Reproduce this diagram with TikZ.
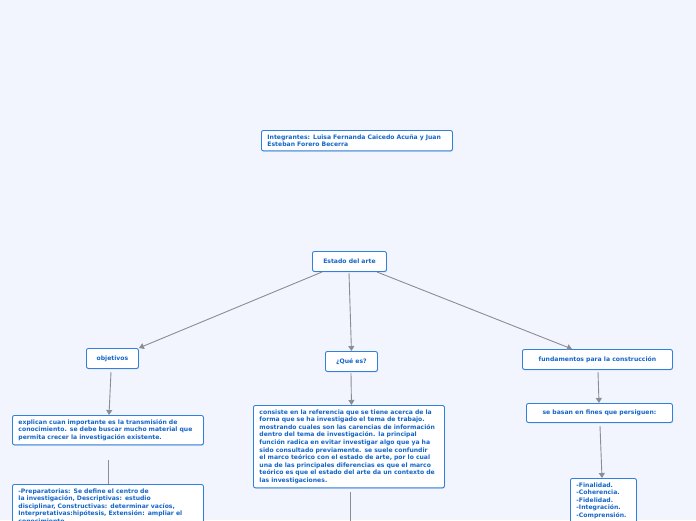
\documentclass[tikz,border=0pt]{standalone}
\usepackage{fontspec}
\setmainfont{DejaVu Sans}
\usetikzlibrary{arrows.meta,shadows}
\definecolor{bg}{HTML}{F2F5FD}
\definecolor{bd}{HTML}{2F80E0}
\definecolor{tx}{HTML}{1566C8}
\definecolor{ln}{HTML}{8A8D94}
\hyphenpenalty=10000
\exhyphenpenalty=10000
\newcommand{\boxfnt}{\fontsize{6.1}{7.6}\selectfont\bfseries}
\begin{document}
\begin{tikzpicture}[x=1pt,y=-1pt,
 box/.style={draw=bd,line width=0.9pt,fill=white,rounded corners=2pt,anchor=north west,
   font=\boxfnt,text=tx,inner xsep=6pt,inner ysep=4pt,
   drop shadow={shadow xshift=0.6pt,shadow yshift=-0.8pt,opacity=0.25}},
 conn/.style={draw=ln,line width=0.9pt,-{Triangle[length=5pt,width=6pt]}},
 plain/.style={draw=ln,line width=0.9pt}]
\useasboundingbox (0,0) rectangle (696,520);
\fill[bg] (0,0) rectangle (696,520);
\clip (0,0) rectangle (696,520);
\node[box,minimum width=191,text width=179,align=left] (int) at (261,130) {Integrantes: Luisa Fernanda Caicedo Acuña y Juan Esteban Forero Becerra};
\node[box,minimum width=74,minimum height=20,align=center] (est) at (312,251) {Estado del arte};
\node[box,minimum width=52,minimum height=20,align=center] (obj) at (86,348) {objetivos};
\node[box,minimum width=52,minimum height=20,align=center] (que) at (325,351) {¿Qué es?};
\node[box,minimum width=150,minimum height=20,align=center] (fun) at (522,349) {fundamentos para la construcción};
\node[box,minimum width=146,minimum height=19,align=center] (bas) at (526,403) {se basan en fines que persiguen:};
\node[box,minimum width=191,text width=179,align=left] (exp) at (12,415) {explican cuan importante es la transmisión de conocimiento. se debe buscar mucho material que permita crecer la investigación existente.};
\node[box,minimum width=191,text width=179,align=left] (pre) at (12,484) {-Preparatorias: Se define el centro de la investigación, Descriptivas: estudio disciplinar, Constructivas: determinar vacíos, Interpretativas:hipótesis, Extensión: ampliar el conocimiento};
\node[box,minimum width=191,text width=179,align=left] (con) at (253,405) {consiste en la referencia que se tiene acerca de la forma que se ha investigado el tema de trabajo. mostrando cuales son las carencias de información dentro del tema de investigación. la principal función radica en evitar investigar algo que ya ha sido consultado previamente. se suele confundir el marco teórico con el estado de arte, por lo cual una de las principales diferencias es que el marco teórico es que el estado del arte da un contexto de las investigaciones.};
\node[box,minimum width=66,text width=54,align=left] (fin) at (570,478) {-Finalidad.\\-Coherencia.\\-Fidelidad.\\-Integración.\\-Comprensión.};
\coordinate (cend) at (350,530);
\draw[conn] (322,272) -- (obj.north east);
\draw[conn] (349,273) -- (que.north);
\draw[conn] (377,272) -- (572,349);
\draw[conn] (111,372) -- (exp.north -| 109,0);
\draw[plain] (108,460) -- (pre.north -| 108,0);
\draw[conn] (351,373) -- (que.south |- con.north);
\draw[plain] (con.south -| 350,0) ++(0,4) -- (cend);
\draw[conn] (598,372) -- (599,403);
\draw[conn] (600,426) -- (602,478);
\end{tikzpicture}
\end{document}
